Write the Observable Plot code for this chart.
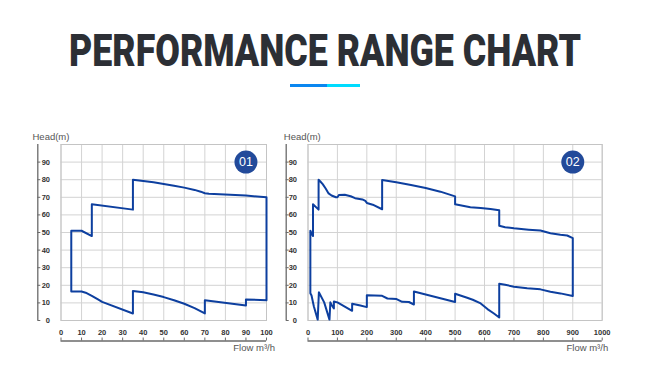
<!DOCTYPE html>
<html>
<head>
<meta charset="utf-8">
<script src="https://cdn.jsdelivr.net/npm/d3@7"></script>
<script src="https://cdn.jsdelivr.net/npm/@observablehq/plot@0.6"></script>
<style>
  html, body { margin: 0; padding: 0; background: #fff; }
  body { width: 650px; height: 388px; position: relative; overflow: hidden; font-family: "Liberation Sans", Arial, sans-serif; }
  #title { position: absolute; left: 0; top: 25px; width: 650px; text-align: center; white-space: nowrap;
           font-family: Roboto, "Liberation Sans", sans-serif; font-weight: 900; font-size: 44px; line-height: 52px; color: #2c2f35; }
  #title span { display: inline-block; transform-origin: 50% 50%; }
  #bar1 { position: absolute; left: 290px; top: 84px; width: 37px; height: 3px; background: #0b87f0; }
  #bar2 { position: absolute; left: 327px; top: 84px; width: 33px; height: 3px; background: #00dcff; }
  #c1 { position: absolute; left: 0; top: 120px; }
  #c2 { position: absolute; left: 270px; top: 120px; }
</style>
</head>
<body>
<div id="title"><span id="titleText">PERFORMANCE RANGE CHART</span></div>
<div id="bar1"></div>
<div id="bar2"></div>
<div id="c1"></div>
<div id="c2"></div>
<script>
// ---- data ----
const yTicks = [0, 10, 20, 30, 40, 50, 60, 70, 80, 90];
const yGrid = [0, 10, 20, 30, 40, 50, 60, 70, 80, 90, 100];
const xTicks1 = [0, 10, 20, 30, 40, 50, 60, 70, 80, 90, 100];
const xTicks2 = [0, 100, 200, 300, 400, 500, 600, 700, 800, 900, 1000];

const chart1Flow = [5, 10, 15, 15, 35, 35, 40, 45, 50, 55, 60, 65, 68, 70, 72, 90, 100,
                    100, 90, 90, 70, 70, 65, 60, 55, 50, 45, 40, 35, 35, 20, 18, 15, 12, 10, 5];
const chart1Head = [51, 51, 48, 66, 63, 80, 79.2, 78.5, 77.6, 76.6, 75.5, 74.2, 73.2, 72.3, 72, 71, 70,
                    11.5, 12, 8.5, 11.5, 4, 7, 9.5, 11.5, 13.3, 14.8, 16, 16.7, 4, 10.6, 12, 14, 15.8, 16.5, 16.5];

const chart2Flow = [8, 12, 17, 17, 36, 36, 42, 50, 60, 70, 80, 95, 100, 105, 125, 145, 160, 185, 195, 200, 220, 252, 252,
                    300, 350, 400, 450, 500, 500, 552, 587, 620, 650, 650, 670, 700, 750, 790, 824, 858, 881, 900,
                    900, 858, 824, 790, 745, 700, 670, 650, 650, 632, 610, 587, 560, 541, 500, 500, 360, 360, 343,
                    320, 301, 270, 252, 200, 200, 178, 150, 150, 100, 88, 88, 80, 76, 73, 55, 37, 33, 20, 12, 8];
const chart2Head = [51, 49.5, 48, 66, 63, 80, 79, 77.5, 75, 72.2, 71, 70, 70, 71.3, 71.5, 70.6, 69.5, 68.8, 68, 66.8, 65.8, 63.2, 79.8,
                    78.6, 77, 75.3, 73.2, 70.5, 66, 64.4, 63.9, 63.4, 62.7, 53.8, 53, 52.4, 51.6, 51.1, 49.6, 48.7, 48.3, 46.8,
                    13.9, 15.4, 16.3, 17.7, 18.3, 19.2, 20.3, 20.9, 1.7, 4, 6.5, 9.7, 11.8, 12.9, 15.2, 10.5, 16.5, 9.1, 10.5,
                    10.6, 12.2, 12.5, 14, 14.4, 7.6, 8.5, 9.5, 5.5, 10.3, 10.8, 6.8, 9, 10.3, 0.5, 10.3, 16, 0.5, 8, 14.2, 15.5];

const badgeLabels = ["01", "02"];
const badgeFlow = [90, 900];
const badgeHead = [90, 90];

const yLabel = "Head(m)";
const xLabel = "Flow m³/h";

// ---- title width fit ----
const tt = document.getElementById("titleText");
const natural = tt.getBoundingClientRect().width;
tt.style.transform = `scaleX(${512 / natural})`;

// ---- drawing ----
const lineColor = "#0d3f9f";
const gridColor = "#d3d3d3";
const axisColor = "#6a6a6a";
const font = "'Liberation Sans', Arial, sans-serif";

function makeChart({flow, head, xTicks, xDomain, badge, width, marginLeft, marginRight, axisDx, headDx, flowDx}) {
  const pts = flow.map((f, i) => ({flow: f, head: head[i]}));
  return Plot.plot({
    width, height: 240,
    marginLeft, marginRight, marginTop: 24, marginBottom: 40,
    x: {domain: xDomain},
    y: {domain: [0, 100]},
    style: {fontFamily: font, fontSize: "7.5px", color: "#333", background: "transparent", overflow: "visible"},
    marks: [
      Plot.gridX(xTicks, {stroke: gridColor, strokeOpacity: 1}),
      Plot.gridY(yGrid, {stroke: gridColor, strokeOpacity: 1}),
      Plot.frame({stroke: "#c4c4c4"}),
      // y axis line + ticks + labels
      Plot.ruleX([xDomain[0]], {dx: axisDx, stroke: axisColor, strokeWidth: 1.3}),
      Plot.axisY(yTicks, {anchor: "left", tickSize: -3, dx: axisDx, fill: "none", stroke: axisColor, label: null}),
      Plot.axisY(yTicks, {anchor: "left", tickSize: 0, tickPadding: 0, dx: -11, textAnchor: "end", fill: "#333", fontWeight: "bold", label: null, tickFormat: d => String(d)}),
      // x axis labels + line + ticks
      Plot.axisX(xTicks, {anchor: "bottom", tickSize: 0, tickPadding: 9, fill: "#333", fontWeight: "bold", label: null, tickFormat: d => String(d)}),
      Plot.ruleY([0], {dy: 20.5, stroke: axisColor, strokeWidth: 1.3}),
      Plot.axisX(xTicks, {anchor: "bottom", tickSize: -3, dy: 20.5, fill: "none", stroke: axisColor, label: null}),
      // axis titles
      Plot.text([yLabel], {frameAnchor: "top-left", dx: headDx, dy: -11, textAnchor: "start", fontSize: 9.5, fill: "#555"}),
      Plot.text([xLabel], {frameAnchor: "bottom-right", dx: flowDx, dy: 30, textAnchor: "end", fontSize: 9.5, fill: "#555"}),
      // performance envelope
      Plot.line(pts, {x: "flow", y: "head", curve: "linear-closed", stroke: lineColor, strokeWidth: 2, strokeLinejoin: "round"}),
      // badge
      Plot.dot([badge], {x: "x", y: "y", r: 11.5, fill: "#224a9a", stroke: null}),
      Plot.text([badge], {x: "x", y: "y", text: "t", fill: "#fff", fontSize: 12.5})
    ]
  });
}

document.getElementById("c1").append(makeChart({
  flow: chart1Flow, head: chart1Head, xTicks: xTicks1, xDomain: [0, 100],
  badge: {x: badgeFlow[0], y: badgeHead[0], t: badgeLabels[0]},
  width: 300, marginLeft: 60.5, marginRight: 34, axisDx: -23.2, headDx: -28.5, flowDx: 8.5
}));
document.getElementById("c2").append(makeChart({
  flow: chart2Flow, head: chart2Head, xTicks: xTicks2, xDomain: [0, 1000],
  badge: {x: badgeFlow[1], y: badgeHead[1], t: badgeLabels[1]},
  width: 370, marginLeft: 37.5, marginRight: 38.3, axisDx: -21.8, headDx: -24.2, flowDx: 6
}));
</script>
</body>
</html>
